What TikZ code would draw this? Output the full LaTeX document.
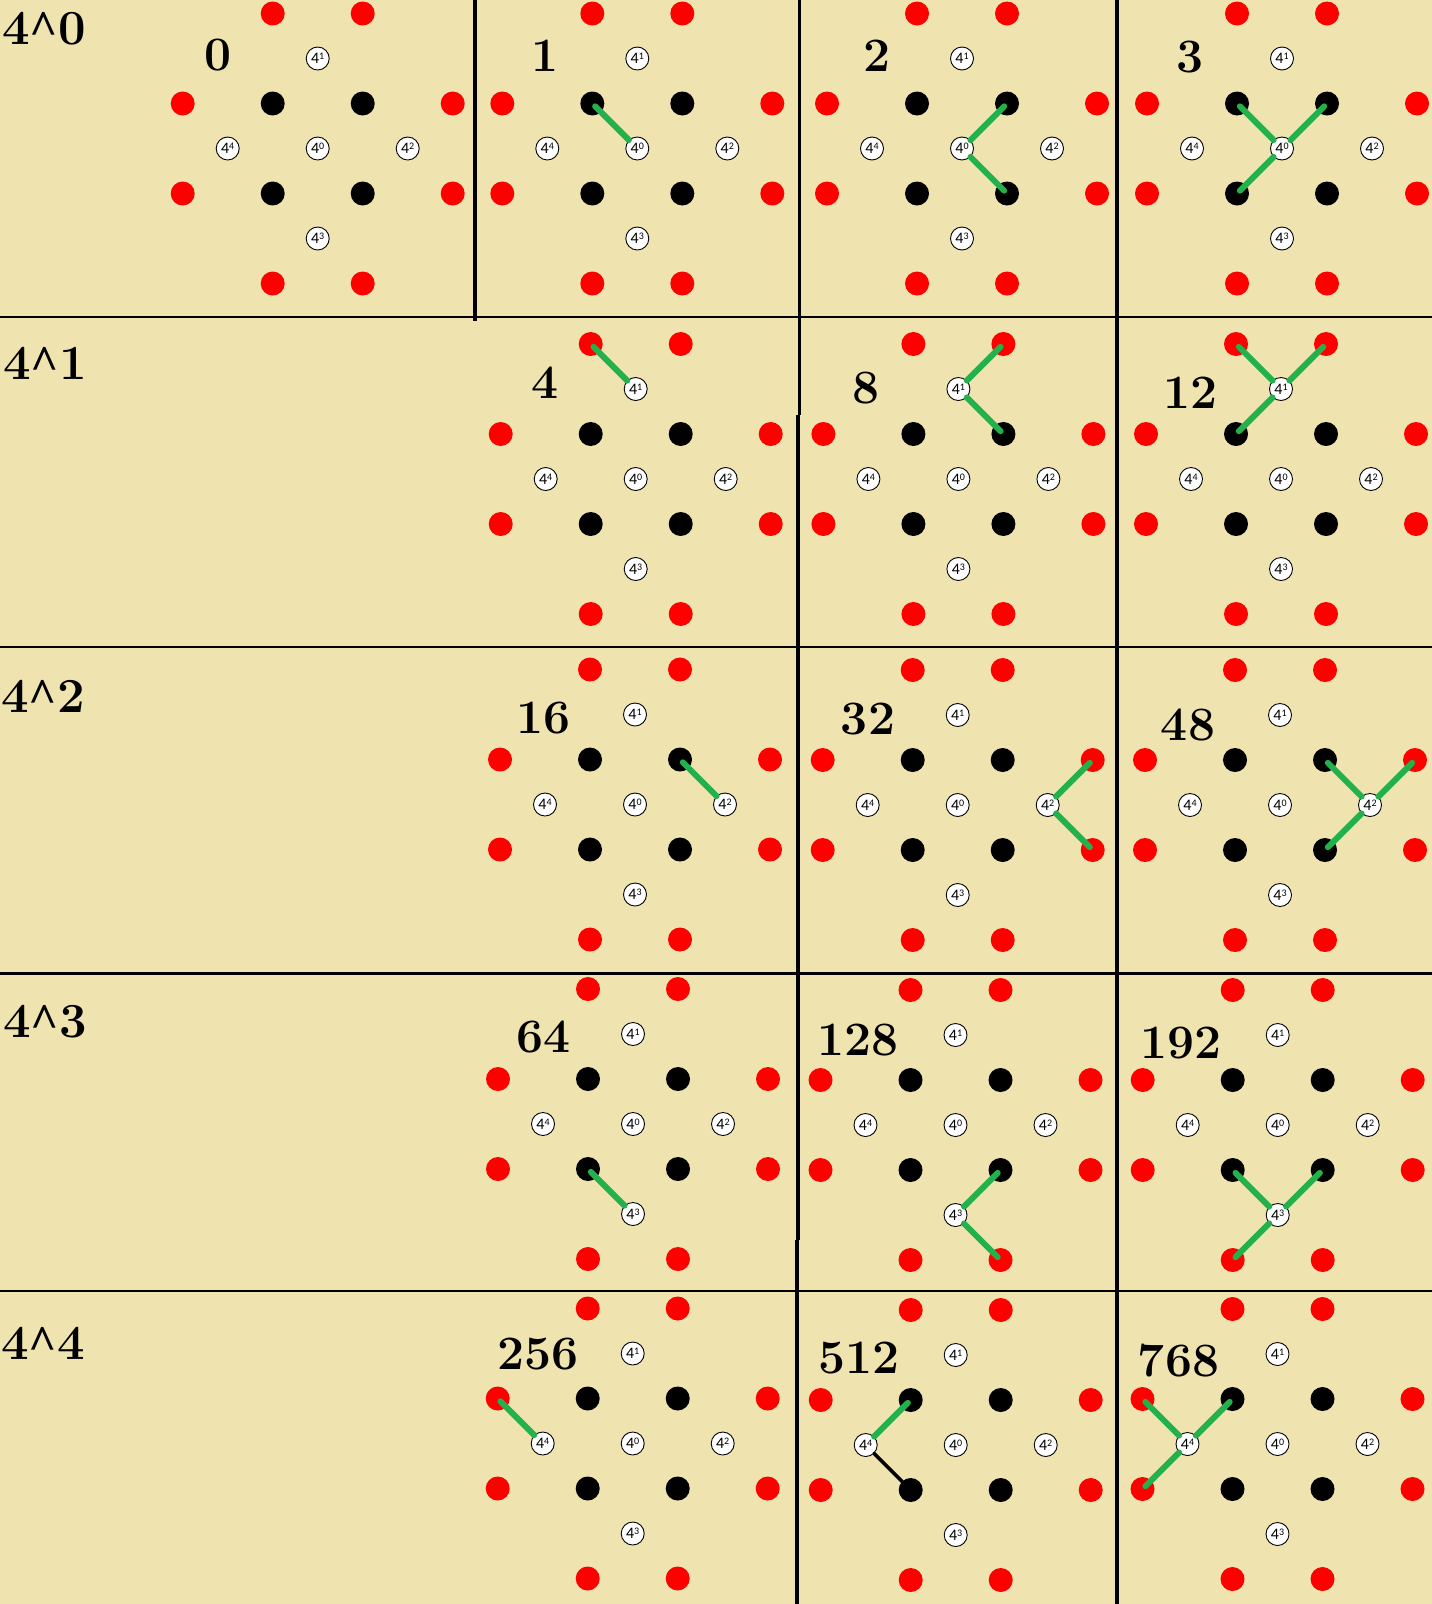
\documentclass[tikz,border=0pt]{standalone}
\usepackage{fontspec}
\newfontfamily\powfont{Carlito}
\newfontfamily\caretfont{Liberation Serif}
\definecolor{paper}{HTML}{EFE4B0}
\definecolor{paintgreen}{HTML}{22B14C}
\newcommand{\powr}[1]{{\powfont\fontsize{16}{16}\selectfont 4\raisebox{4pt}{\fontsize{10}{10}\selectfont #1}}}
\newcommand{\rowpow}[1]{4{\caretfont\bfseries\textasciicircum}#1}

\begin{document}
\begin{tikzpicture}[x=1pt, y=-1pt,
		reddot/.style={circle, fill=red, minimum size=24pt, inner sep=0pt},
		blackdot/.style={circle, fill=black, minimum size=24pt, inner sep=0pt},
		power/.style={circle, draw, line width=0.9pt, fill=white, minimum size=23pt, inner sep=0pt},
		cellnum/.style={inner sep=0pt, font=\fontsize{48}{48}\selectfont\bfseries},
		rownum/.style={inner sep=0pt, anchor=west, font=\fontsize{49}{49}\selectfont\bfseries},
		rule/.style={line width=2.8pt},
		vrule/.style={line width=3.3pt},
		link/.style={draw=paintgreen, line width=6pt, line cap=round, shorten >=4pt},
		thinlink/.style={draw=black, line width=3.5pt, line cap=round, shorten >=4pt}]
	\useasboundingbox (0,0) rectangle (1432,1604);
	\fill[paper] (0,0) rectangle (1432,1604);

	\draw[rule] (0,317) -- (1432,317)
		(0,647) -- (1432,647)
		(0,973.5) -- (1432,973.5)
		(0,1291) -- (1432,1291);
	\draw[vrule] (475,0) -- (475,321)
		(799.5,0) -- (799.5,415)
		(798,415) -- (798,1240)
		(797,1240) -- (797,1604)
		(1117,0) -- (1117,1604);

	\node[rownum] (row0) at (2,29) {\rowpow{0}};
	\node[rownum] (row1) at (3,363) {\rowpow{1}};
	\node[rownum] (row2) at (1,696) {\rowpow{2}};
	\node[rownum] (row3) at (3,1022) {\rowpow{3}};
	\node[rownum] (row4) at (1,1343) {\rowpow{4}};

	\foreach \n/\x/\y/\lab/\lx/\ly in {
			a0/317.7/148.5/0/218/55, a1/637.3/148.5/1/545/55.3,
			a2/962/148.5/2/876.6/55.3, a3/1282/148.5/3/1189.5/56.7,
			b1/635.7/479/4/545/383, b2/958.4/479/8/866/388.3, b3/1281/479/12/1190.6/393,
			c1/635/804.5/16/543.8/717.8, c2/957.7/805/32/868/718.8, c3/1280/805/48/1188/725,
			d1/633/1124/64/543.3/1037, d2/955.5/1125/128/857.6/1040, d3/1277.7/1125/192/1181/1043.3,
			e1/632.7/1443.5/256/538/1354.5, e2/955.7/1445/512/859/1358.4, e3/1277.5/1444/768/1178.5/1360.5}{
		\begin{scope}[shift={(\x,\y)}]
			\foreach \dn/\dx/\dy in {t1/-45/-135, t2/45/-135, rt/135/-45, rb/135/45,
					b1/-45/135, b2/45/135, lt/-135/-45, lb/-135/45}
				\node[reddot] (\n-\dn) at (\dx,\dy) {};
			\foreach \dn/\dx/\dy in {k1/-45/-45, k2/45/-45, k3/-45/45, k4/45/45}
				\node[blackdot] (\n-\dn) at (\dx,\dy) {};
			\foreach \pe/\ex/\ey in {0/0/0, 1/0/-90, 2/90/0, 3/0/90, 4/-90/0}
				\node[power] (\n-p\pe) at (\ex,\ey) {\powr{\pe}};
		\end{scope}
		\node[cellnum] (\n-num) at (\lx,\ly) {\lab};
	}

	\path (a1-p0) edge[link] (a1-k1.center)
		(a2-p0) edge[link] (a2-k2.center)
		(a2-p0) edge[link] (a2-k4.center)
		(a3-p0) edge[link] (a3-k1.center)
		(a3-p0) edge[link] (a3-k2.center)
		(a3-p0) edge[link] (a3-k3.center)

		(b1-p1) edge[link] (b1-t1.center)
		(b2-p1) edge[link] (b2-t2.center)
		(b2-p1) edge[link] (b2-k2.center)
		(b3-p1) edge[link] (b3-t1.center)
		(b3-p1) edge[link] (b3-t2.center)
		(b3-p1) edge[link] (b3-k1.center)

		(c1-p2) edge[link] (c1-k2.center)
		(c2-p2) edge[link] (c2-rt.center)
		(c2-p2) edge[link] (c2-rb.center)
		(c3-p2) edge[link] (c3-k2.center)
		(c3-p2) edge[link] (c3-rt.center)
		(c3-p2) edge[link] (c3-k4.center)

		(d1-p3) edge[link] (d1-k3.center)
		(d2-p3) edge[link] (d2-k4.center)
		(d2-p3) edge[link] (d2-b2.center)
		(d3-p3) edge[link] (d3-k3.center)
		(d3-p3) edge[link] (d3-k4.center)
		(d3-p3) edge[link] (d3-b1.center)

		(e1-p4) edge[link] (e1-lt.center)
		(e2-p4) edge[link] (e2-k1.center)
		(e2-p4) edge[thinlink] (e2-k3.center)
		(e3-p4) edge[link] (e3-lt.center)
		(e3-p4) edge[link] (e3-k1.center)
		(e3-p4) edge[link] (e3-lb.center);
\end{tikzpicture}
\end{document}
